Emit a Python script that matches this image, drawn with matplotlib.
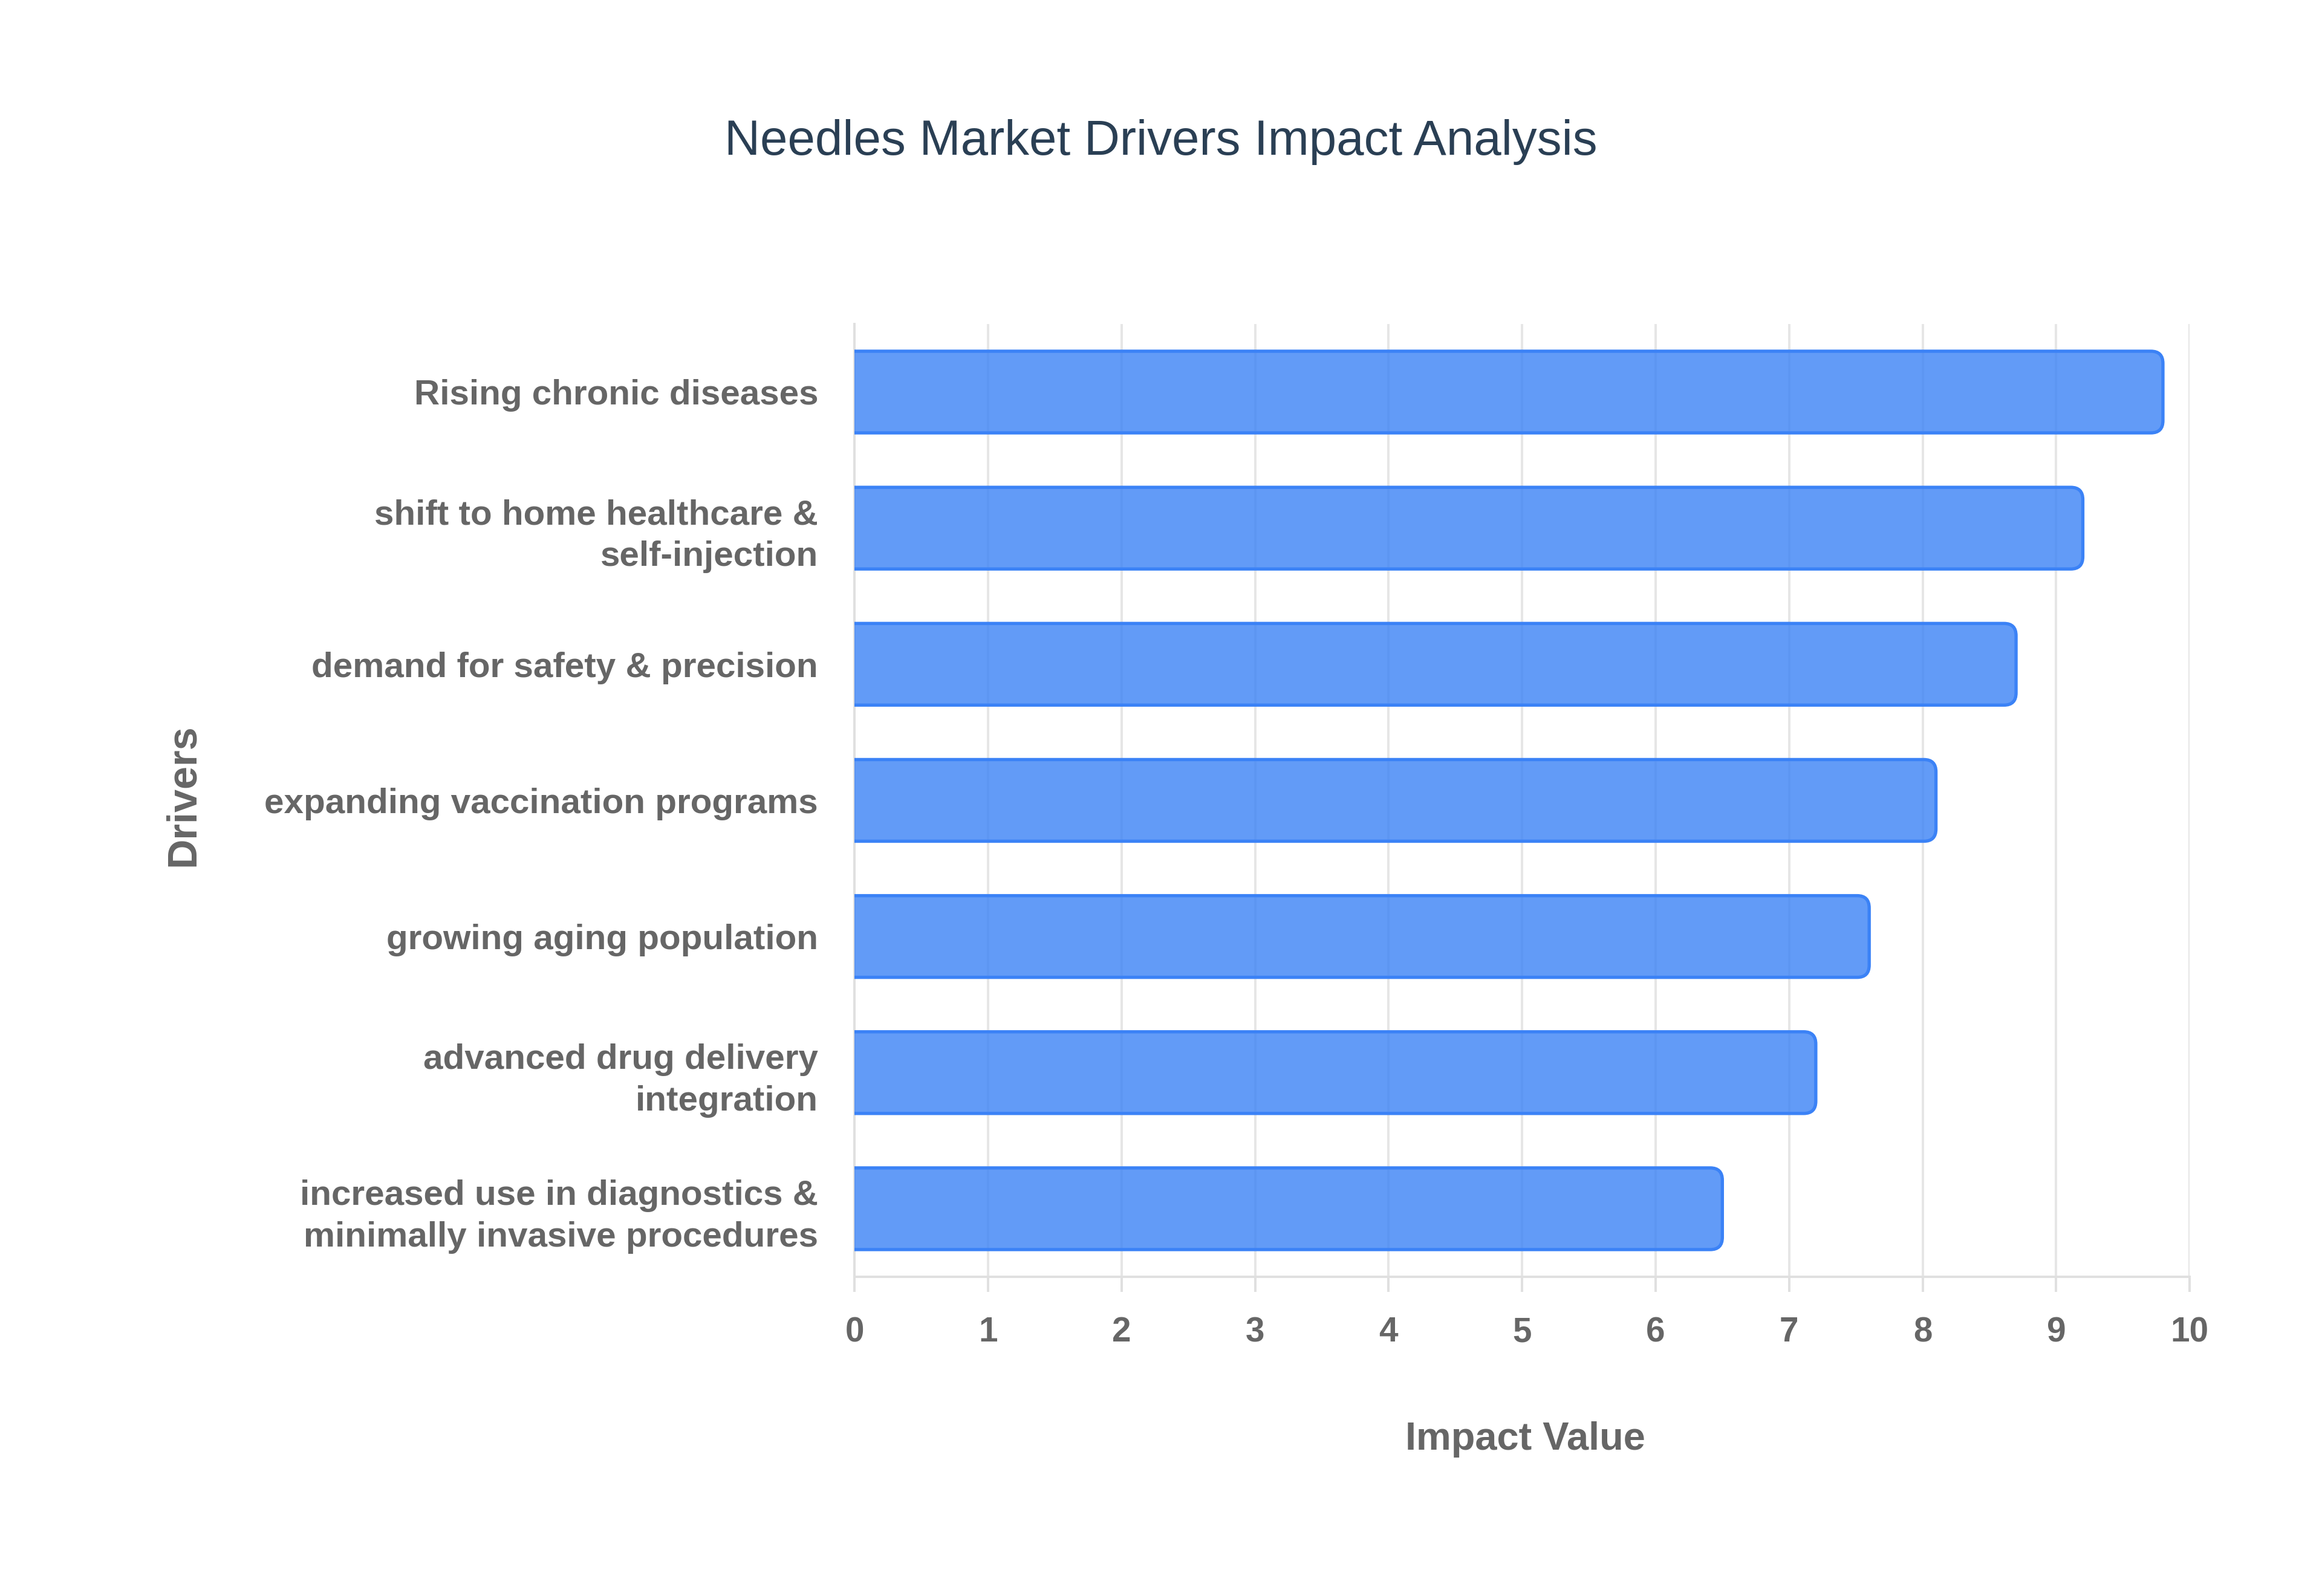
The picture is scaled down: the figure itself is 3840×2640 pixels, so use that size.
import matplotlib
matplotlib.use("Agg")
import matplotlib.pyplot as plt
from matplotlib.patches import FancyBboxPatch

# data (top to bottom)
drivers = [
    "Rising chronic diseases",
    "shift to home healthcare &\nself-injection",
    "demand for safety & precision",
    "expanding vaccination programs",
    "growing aging population",
    "advanced drug delivery\nintegration",
    "increased use in diagnostics &\nminimally invasive procedures",
]
impact = [9.8, 9.2, 8.7, 8.1, 7.6, 7.2, 6.5]
xticks = list(range(0, 11))

plt.rcParams['font.family'] = ['Liberation Sans', 'DejaVu Sans']

fig = plt.figure(figsize=(16, 11), dpi=240)
ax = fig.add_axes([0.368, 0.2, 0.575, 0.597])

ypos = list(range(len(drivers)))
bars = ax.barh(ypos, impact, height=0.6, color="none", edgecolor="none")

# rounded bars built from the bar geometry
for b in bars:
    p = FancyBboxPatch((b.get_x() - 0.15, b.get_y()), b.get_width() + 0.15, b.get_height(),
                       boxstyle="round,pad=0,rounding_size=0.09",
                       facecolor=(59/255, 130/255, 246/255, 0.8),
                       edgecolor="#3b82f6", linewidth=1.6, zorder=3, clip_on=True)
    ax.add_patch(p)

ax.set_xlim(0, 10)
ax.set_ylim(len(drivers) - 0.5, -0.5)
ax.set_xticks(xticks)
ax.set_yticks(ypos)
ax.set_yticklabels(drivers, linespacing=1.35)

ax.grid(axis='x', color='#e6e6e6', linewidth=1.2, zorder=0)
ax.set_axisbelow(True)

for s in ['top', 'right']:
    ax.spines[s].set_visible(False)
for s in ['left', 'bottom']:
    ax.spines[s].set_color('#e0e0e0')
    ax.spines[s].set_linewidth(1.2)

ax.tick_params(axis='y', length=0, pad=18, labelsize=17.5, labelcolor='#666666')
ax.tick_params(axis='x', length=7.5, width=1.2, color='#e0e0e0', pad=12,
               labelsize=17, labelcolor='#666666')
for lbl in ax.get_yticklabels() + ax.get_xticklabels():
    lbl.set_fontweight('bold')

fig.text(0.5, 0.911, "Needles Market Drivers Impact Analysis", ha='center', va='center',
         fontsize=24.5, color='#2a3f54')
fig.text(0.657, 0.098, "Impact Value", ha='center', va='center',
         fontsize=19.5, fontweight='bold', color='#666666')
fig.text(0.079, 0.502, "Drivers", ha='center', va='center', rotation=90,
         fontsize=20.5, fontweight='bold', color='#666666')

fig.savefig("out.png", dpi=240, facecolor='white')
